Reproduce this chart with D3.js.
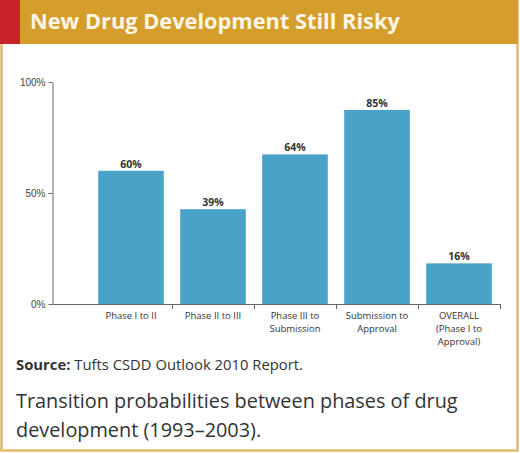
<!DOCTYPE html>
<html>
<head>
<meta charset="utf-8">
<script src="https://cdn.jsdelivr.net/npm/d3@7"></script>
<style>
	body { margin: 0; background: #fff; }
	svg { display: block; font-family: 'Open Sans', sans-serif; }
</style>
</head>
<body>
<div id="chart"></div>
<script>
	var title = 'New Drug Development Still Risky';
	var categories = ['Phase I to II', 'Phase II to III', 'Phase III to Submission', 'Submission to Approval', 'OVERALL (Phase I to Approval)'];
	var categoryLines = [
		['Phase I to II'],
		['Phase II to III'],
		['Phase III to', 'Submission'],
		['Submission to', 'Approval'],
		['OVERALL', '(Phase I to', 'Approval)']
	];
	// bar heights as drawn in the picture (%), labels as printed
	var barHeights = [60, 42.7, 67.4, 87.4, 18.3];
	var valueLabels = ['60%', '39%', '64%', '85%', '16%'];
	var yTicks = [0, 50, 100];
	var sourceLabel = 'Source:';
	var sourceText = ' Tufts CSDD Outlook 2010 Report.';
	var captionLines = ['Transition probabilities between phases of drug', 'development (1993\u20132003).'];

	var fullWidth = 520;
	var fullHeight = 453;
	var gold = '#d59e2c';
	var barColor = '#4aa2c8';
	var textColor = '#333';

	var svg = d3.select('#chart')
		.append('svg')
		.attr('width', fullWidth)
		.attr('height', fullHeight);

	// frame
	svg.append('rect')
		.attr('x', 1.5).attr('y', 1).attr('width', fullWidth - 4).attr('height', fullHeight - 3.5)
		.attr('fill', '#fff')
		.attr('stroke', '#e0bc6a')
		.attr('stroke-width', 2.5);

	svg.append('rect')
		.attr('x', 0).attr('y', 0).attr('width', 518).attr('height', 44)
		.attr('fill', gold);

	svg.append('rect')
		.attr('x', 0).attr('y', 0).attr('width', 20).attr('height', 44)
		.attr('fill', '#c8232b');

	// scale font so text spans a given width
	function fit(sel, target) {
		var w = sel.node().getComputedTextLength();
		var fs = parseFloat(sel.attr('font-size'));
		sel.attr('font-size', (fs * target / w).toFixed(2));
	}

	var titleText = svg.append('text')
		.attr('x', 30).attr('y', 29)
		.attr('font-size', 20)
		.attr('font-weight', 'bold')
		.attr('fill', '#fdf6e6')
		.text(title);
	fit(titleText, 370);

	var margin = { top: 82, left: 52.5, bottom: 304, right: 500 };

	var y = d3.scaleLinear()
		.domain([0, 100])
		.range([margin.bottom, margin.top]);

	var x = d3.scaleBand()
		.domain(categories)
		.range([90, margin.right])
		.paddingInner(0.2)
		.paddingOuter(0.1);

	var chartArea = svg.append('g');

	chartArea.selectAll('rect.bar')
		.data(categories)
		.enter()
		.append('rect')
		.attr('class', 'bar')
		.attr('x', function(d) { return x(d); })
		.attr('width', x.bandwidth())
		.attr('y', function(d, i) { return y(barHeights[i]); })
		.attr('height', function(d, i) { return y(0) - y(barHeights[i]); })
		.attr('fill', barColor);

	chartArea.selectAll('text.value')
		.data(categories)
		.enter()
		.append('text')
		.attr('class', 'value')
		.attr('x', function(d) { return x(d) + x.bandwidth() / 2; })
		.attr('y', function(d, i) { return y(barHeights[i]) - 3; })
		.attr('text-anchor', 'middle')
		.attr('font-size', 10.5)
		.attr('font-weight', 'bold')
		.attr('fill', textColor)
		.text(function(d, i) { return valueLabels[i]; });

	var yAxis = d3.axisLeft(y)
		.tickValues(yTicks)
		.tickSize(4)
		.tickSizeOuter(0)
		.tickPadding(3)
		.tickFormat(function(d) { return d + '%'; });

	var yG = chartArea.append('g')
		.attr('transform', 'translate(' + margin.left + ',0)')
		.call(yAxis);
	yG.select('.domain').attr('stroke', '#666');
	yG.selectAll('.tick line').attr('stroke', '#666');
	yG.selectAll('.tick text')
		.attr('font-family', "'Liberation Sans', Arial, sans-serif")
		.attr('font-size', 10)
		.attr('fill', '#444');

	// x axis line with ticks at band boundaries
	var xG = chartArea.append('g');
	xG.append('line')
		.attr('x1', margin.left).attr('x2', margin.right)
		.attr('y1', y(0) + 0.5).attr('y2', y(0) + 0.5)
		.attr('stroke', '#666');
	xG.selectAll('line.tick')
		.data(categories)
		.enter()
		.append('line')
		.attr('class', 'tick')
		.attr('x1', function(d) { return Math.round(x(d) + x.bandwidth() + x.step() * x.paddingInner() / 2) + 0.5; })
		.attr('x2', function(d) { return Math.round(x(d) + x.bandwidth() + x.step() * x.paddingInner() / 2) + 0.5; })
		.attr('y1', y(0)).attr('y2', y(0) + 5)
		.attr('stroke', '#666');

	// one text element per label line
	var catLines = [];
	categories.forEach(function(c, i) {
		categoryLines[i].forEach(function(l, j) {
			catLines.push({ cat: c, line: l, row: j });
		});
	});

	xG.selectAll('text.cat')
		.data(catLines)
		.enter()
		.append('text')
		.attr('class', 'cat')
		.attr('text-anchor', 'middle')
		.attr('font-size', 9.5)
		.attr('fill', textColor)
		.attr('x', function(d) { return x(d.cat) + x.bandwidth() / 2; })
		.attr('y', function(d) { return 318.5 + d.row * 13; })
		.text(function(d) { return d.line; });

	var source = svg.append('text')
		.attr('x', 16).attr('y', 370)
		.attr('font-size', 13)
		.attr('fill', textColor);
	source.append('tspan').attr('font-weight', 'bold').text(sourceLabel);
	source.append('tspan').text(sourceText);
	fit(source, 287);

	var caption = svg.append('g');
	var cap1 = caption.append('text')
		.attr('x', 16).attr('y', 408)
		.attr('font-size', 20)
		.attr('fill', textColor)
		.text(captionLines[0]);
	fit(cap1, 442);
	caption.append('text')
		.attr('x', 16).attr('y', 437)
		.attr('font-size', cap1.attr('font-size'))
		.attr('fill', textColor)
		.text(captionLines[1]);
</script>
</body>
</html>
